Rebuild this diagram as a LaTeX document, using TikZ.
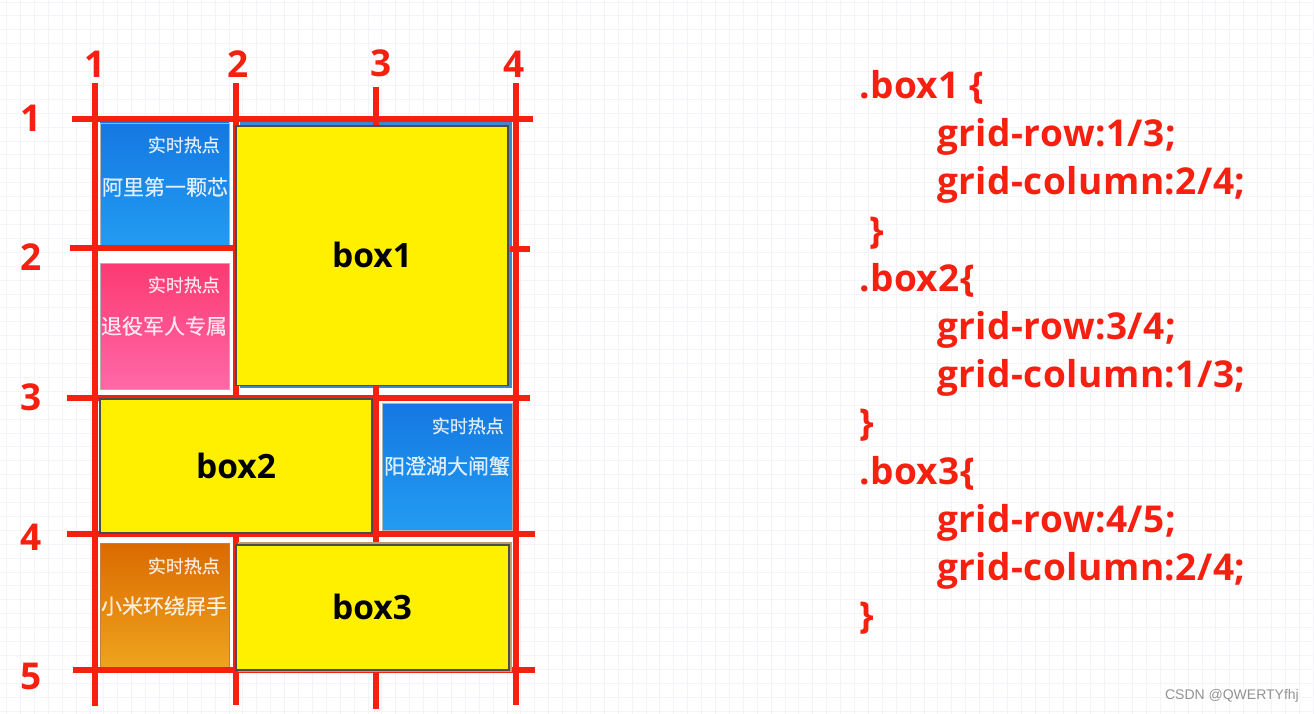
\documentclass[tikz,border=0pt]{standalone}
\usepackage{fontspec}
\setmainfont{Noto Sans}
\newfontfamily\cjk{Noto Sans CJK SC}[FakeBold=0.4]
\newfontfamily\fb{Open Sans}
\newfontfamily\fc{Open Sans}[LetterSpace=1.3]
\newfontfamily\wm{Liberation Sans}
\definecolor{gridred}{HTML}{F5200F}
\definecolor{boxyel}{HTML}{FFF000}
\definecolor{gridbg}{HTML}{F4F4F8}
\definecolor{shadowblue}{HTML}{3F87D0}
\definecolor{ta}{HTML}{1478E2}\definecolor{tb}{HTML}{239CF2}
\definecolor{pa}{HTML}{FC3A72}\definecolor{pb}{HTML}{FF68A8}
\definecolor{oa}{HTML}{DB6A00}\definecolor{ob}{HTML}{EEA41E}
\tikzset{
 x=1pt,y=-1pt,
 gline/.style={draw=gridred,line width=5.6pt},
 yelbox/.style={fill=boxyel,draw=black!70,line width=1.2pt},
 tilesmall/.style={white,opacity=.85,anchor=east,font=\cjk\fontsize{18}{18}\selectfont,inner sep=0pt},
 tilebig/.style={white,opacity=.85,anchor=center,font=\cjk\fontsize{21}{21}\selectfont,inner sep=0pt},
 gridnum/.style={text=gridred,font=\fb\bfseries\fontsize{37}{37}\selectfont,inner sep=0pt,anchor=center},
 boxlbl/.style={black,font=\fb\bfseries\fontsize{33.5}{33.5}\selectfont,inner sep=0pt,anchor=center},
 code/.style={text=gridred,font=\fc\bfseries\fontsize{37}{37}\selectfont,inner sep=0pt,anchor=base west},
}
\begin{document}
\begin{tikzpicture}
\useasboundingbox (0,0) rectangle (1314,714);
\fill[white] (0,0) rectangle (1314,714);
% background grid
\foreach \i in {0,...,94} \draw[gridbg,line width=1pt] ({\i*13.9+6.6},0) -- ({\i*13.9+6.6},714);
\foreach \i in {0,...,51} \draw[gridbg,line width=1pt] (0,{\i*13.9+2.1}) -- (1314,{\i*13.9+2.1});
% coloured tiles
\fill[white] (96,119) rectangle (516,670);
\shade[top color=ta,bottom color=tb,draw=gray!60,line width=.8pt] (100,123) rectangle (229,246);
\shade[top color=pa,bottom color=pb,draw=gray!60,line width=.8pt] (100,263) rectangle (229,389);
\shade[top color=ta,bottom color=tb,draw=gray!60,line width=.8pt] (382,403) rectangle (512,530);
\shade[top color=oa,bottom color=ob,draw=gray!50!orange,line width=.8pt] (100,543) rectangle (229,667);
\fill[shadowblue] (240,121) rectangle (512,388);
% grid lines
\draw[gline] (95,83) -- (95,706);
\draw[gline] (236,83) -- (236,705);
\draw[gline] (376,87) -- (376,709);
\draw[gline] (516,83) -- (516,705);
\draw[gline] (72,119) -- (533,119);
\draw[gline] (70,248) -- (235,248);
\draw[gline] (510,249) -- (530,249);
\draw[gline] (67,398) -- (530,398);
\draw[gline] (67,534) -- (535,534);
\draw[gline] (73,670) -- (535,670);
% yellow boxes
\fill[orange!45!gray!80] (238,542) rectangle (512,672);
\draw[yelbox] (236,126) rectangle (508,385.5);
\draw[yelbox] (100,399) rectangle (372,533);
\draw[yelbox] (236,545) rectangle (509,670);
% labels
\node[boxlbl] (b1) at (372,255) {box1};
\node[boxlbl] (b2) at (236,466) {box2};
\node[boxlbl] (b3) at (372,607) {box3};
\node[tilesmall] (s1) at (220,145) {实时热点};
\node[tilebig] (t1) at (165,187) {阿里第一颗芯};
\node[tilesmall] (s2) at (220,285) {实时热点};
\node[tilebig] (t2) at (164,326) {退役军人专属};
\node[tilesmall] (s3) at (504,426) {实时热点};
\node[tilebig] (t3) at (447,466) {阳澄湖大闸蟹};
\node[tilesmall] (s4) at (220,566) {实时热点};
\node[tilebig] (t4) at (164,606) {小米环绕屏手};
% numbers
\node[gridnum] (c1) at (95,64) {1};
\node[gridnum] (c2) at (238,64) {2};
\node[gridnum] (c3) at (381,63) {3};
\node[gridnum] (c4) at (514,64) {4};
\node[gridnum] (r1) at (31,118) {1};
\node[gridnum] (r2) at (31,257) {2};
\node[gridnum] (r3) at (31,397) {3};
\node[gridnum] (r4) at (31,537) {4};
\node[gridnum] (r5) at (31,676) {5};
% code
\node[code] (l1) at (859,99) {.box1 \{};
\node[code] (l2) at (937,147) {grid-row:1/3;};
\node[code] (l3) at (937,195) {grid-column:2/4;};
\node[code] (l4) at (869,243) {\}};
\node[code] (l5) at (859,291) {.box2\{};
\node[code] (l6) at (937,339) {grid-row:3/4;};
\node[code] (l7) at (937,387) {grid-column:1/3;};
\node[code] (l8) at (859,435) {\}};
\node[code] (l9) at (859,484) {.box3\{};
\node[code] (l10) at (937,532) {grid-row:4/5;};
\node[code] (l11) at (937,580) {grid-column:2/4;};
\node[code] (l12) at (859,628) {\}};
\node[text=gray!85,font=\wm\fontsize{14}{14}\selectfont,inner sep=0pt,anchor=east] (wm) at (1299,696) {CSDN @QWERTYfhj};
\end{tikzpicture}
\end{document}
